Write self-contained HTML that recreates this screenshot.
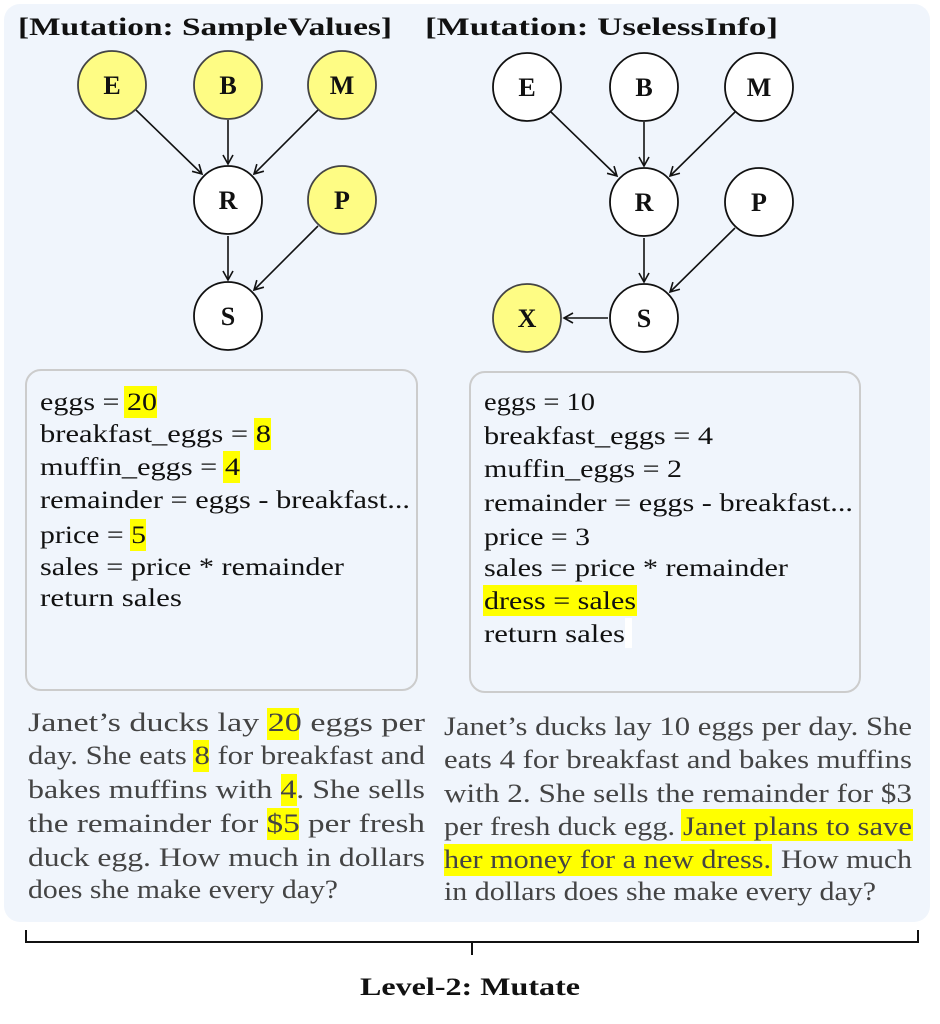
<!DOCTYPE html>
<html><head><meta charset="utf-8"><style>html,body{margin:0;padding:0;background:#fff}svg{display:block}</style></head>
<body>
<svg width="940" height="1024" viewBox="0 0 940 1024" xmlns="http://www.w3.org/2000/svg" style="font-family:'Liberation Serif',serif">
<defs><marker id="a" markerWidth="12" markerHeight="12" refX="10" refY="6" orient="auto" markerUnits="userSpaceOnUse"><path d="M1,1 L10,6 L1,11" fill="none" stroke="#111" stroke-width="1.6"/></marker></defs>
<rect x="4" y="4" width="926" height="918" rx="16" fill="#f0f5fc"/>
<g font-weight="bold" font-size="25" fill="#111">
<text x="18" y="35" textLength="374" lengthAdjust="spacingAndGlyphs">[Mutation: SampleValues]</text>
<text x="425" y="35" textLength="353" lengthAdjust="spacingAndGlyphs">[Mutation: UselessInfo]</text>
</g>
<g stroke="#111" stroke-width="1.6" marker-end="url(#a)">
<line x1="136" y1="110" x2="202" y2="174"/><line x1="228" y1="120" x2="228" y2="164"/><line x1="318" y1="110" x2="254" y2="174"/>
<line x1="228" y1="236" x2="228" y2="280"/><line x1="318" y1="226" x2="254" y2="290"/>
<line x1="551" y1="112" x2="617" y2="176"/><line x1="644" y1="122" x2="644" y2="166"/><line x1="735" y1="112" x2="670" y2="176"/>
<line x1="644" y1="238" x2="644" y2="282"/><line x1="735" y1="228" x2="670" y2="292"/>
<line x1="608" y1="318" x2="564" y2="318"/>
</g>
<g stroke="#444" stroke-width="1.8">
<circle cx="112" cy="85" r="34" fill="#fefc84"/><circle cx="228" cy="85" r="34" fill="#fefc84"/><circle cx="342" cy="85" r="34" fill="#fefc84"/>
<circle cx="228" cy="200" r="34" fill="#fff" stroke="#111"/><circle cx="342" cy="200" r="34" fill="#fefc84"/><circle cx="228" cy="316" r="34" fill="#fff" stroke="#111"/>
<circle cx="527" cy="87" r="34" fill="#fff" stroke="#111"/><circle cx="644" cy="87" r="34" fill="#fff" stroke="#111"/><circle cx="759" cy="87" r="34" fill="#fff" stroke="#111"/>
<circle cx="644" cy="202" r="34" fill="#fff" stroke="#111"/><circle cx="759" cy="202" r="34" fill="#fff" stroke="#111"/><circle cx="644" cy="318" r="34" fill="#fff" stroke="#111"/>
<circle cx="527" cy="318" r="34" fill="#fefc84"/>
</g>
<g font-weight="bold" font-size="26" fill="#111" text-anchor="middle">
<text x="112" y="94">E</text><text x="228" y="94">B</text><text x="342" y="94">M</text><text x="228" y="209">R</text><text x="342" y="209">P</text><text x="228" y="325">S</text>
<text x="527" y="96">E</text><text x="644" y="96">B</text><text x="759" y="96">M</text><text x="644" y="211">R</text><text x="759" y="211">P</text><text x="644" y="327">S</text><text x="527" y="327">X</text>
</g>
<rect x="26" y="370" width="391" height="320" rx="15" fill="none" stroke="#ccc" stroke-width="2"/>
<rect x="470" y="372" width="390" height="320" rx="15" fill="none" stroke="#ccc" stroke-width="2"/>
<g fill="#ffff00">
<rect x="124" y="386" width="33" height="32"/><rect x="254" y="418" width="17" height="32"/><rect x="223" y="451" width="17" height="32"/><rect x="130" y="519" width="16" height="32"/>
<rect x="483" y="585" width="154" height="31"/>
<rect x="267" y="708" width="32" height="32"/><rect x="193" y="740" width="16" height="32"/><rect x="281" y="774" width="16" height="32"/><rect x="267" y="808" width="32" height="32"/>
<rect x="681" y="809" width="232" height="32"/><rect x="444" y="844" width="328" height="32"/>
</g>
<rect x="625" y="618" width="7" height="30" fill="#fff"/>
<g font-size="25" fill="#111">
<text x="40" y="410" textLength="117" lengthAdjust="spacingAndGlyphs">eggs = 20</text>
<text x="40" y="442" textLength="231" lengthAdjust="spacingAndGlyphs">breakfast_eggs = 8</text>
<text x="40" y="475" textLength="200" lengthAdjust="spacingAndGlyphs">muffin_eggs = 4</text>
<text x="40" y="508" textLength="370" lengthAdjust="spacingAndGlyphs">remainder = eggs - breakfast...</text>
<text x="40" y="543" textLength="106" lengthAdjust="spacingAndGlyphs">price = 5</text>
<text x="40" y="575" textLength="304" lengthAdjust="spacingAndGlyphs">sales = price * remainder</text>
<text x="40" y="606" textLength="142" lengthAdjust="spacingAndGlyphs">return sales</text>
<text x="484" y="410" textLength="111" lengthAdjust="spacingAndGlyphs">eggs = 10</text>
<text x="484" y="444" textLength="229" lengthAdjust="spacingAndGlyphs">breakfast_eggs = 4</text>
<text x="484" y="477" textLength="198" lengthAdjust="spacingAndGlyphs">muffin_eggs = 2</text>
<text x="484" y="511" textLength="369" lengthAdjust="spacingAndGlyphs">remainder = eggs - breakfast...</text>
<text x="484" y="545" textLength="106" lengthAdjust="spacingAndGlyphs">price = 3</text>
<text x="484" y="576" textLength="304" lengthAdjust="spacingAndGlyphs">sales = price * remainder</text>
<text x="484" y="609" textLength="152" lengthAdjust="spacingAndGlyphs">dress = sales</text>
<text x="484" y="642" textLength="141" lengthAdjust="spacingAndGlyphs">return sales</text>
</g>
<g font-size="26" fill="#444">
<text x="28" y="731" textLength="397" lengthAdjust="spacingAndGlyphs">Janet’s ducks lay 20 eggs per</text>
<text x="28" y="764" textLength="397" lengthAdjust="spacingAndGlyphs">day. She eats 8 for breakfast and</text>
<text x="28" y="798" textLength="397" lengthAdjust="spacingAndGlyphs">bakes muffins with 4. She sells</text>
<text x="28" y="832" textLength="397" lengthAdjust="spacingAndGlyphs">the remainder for $5 per fresh</text>
<text x="28" y="866" textLength="397" lengthAdjust="spacingAndGlyphs">duck egg. How much in dollars</text>
<text x="28" y="898" textLength="310" lengthAdjust="spacingAndGlyphs">does she make every day?</text>
<text x="444" y="735" textLength="468" lengthAdjust="spacingAndGlyphs">Janet’s ducks lay 10 eggs per day. She</text>
<text x="444" y="768" textLength="468" lengthAdjust="spacingAndGlyphs">eats 4 for breakfast and bakes muffins</text>
<text x="444" y="802" textLength="468" lengthAdjust="spacingAndGlyphs">with 2. She sells the remainder for $3</text>
<text x="444" y="835" textLength="231" lengthAdjust="spacingAndGlyphs">per fresh duck egg.</text>
<text x="683" y="835" textLength="229" lengthAdjust="spacingAndGlyphs">Janet plans to save</text>
<text x="444" y="868" textLength="327" lengthAdjust="spacingAndGlyphs">her money for a new dress.</text>
<text x="781" y="868" textLength="131" lengthAdjust="spacingAndGlyphs">How much</text>
<text x="444" y="900" textLength="432" lengthAdjust="spacingAndGlyphs">in dollars does she make every day?</text>
</g>
<path d="M26,930 V942 H918 V930 M472,942 V955" fill="none" stroke="#111" stroke-width="2"/>
<text x="470" y="995" text-anchor="middle" font-weight="bold" font-size="25" fill="#111" textLength="220" lengthAdjust="spacingAndGlyphs">Level-2: Mutate</text>
</svg>
</body></html>
